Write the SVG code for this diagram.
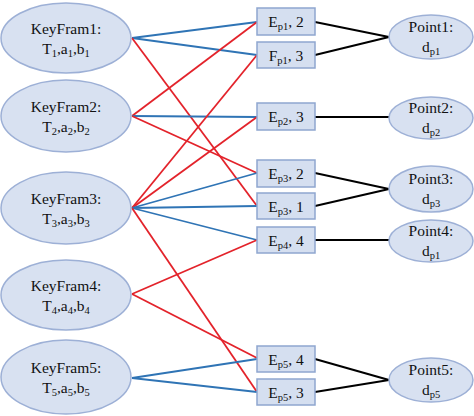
<svg xmlns="http://www.w3.org/2000/svg" width="474" height="416" viewBox="0 0 474 416">
<style>
.kf{fill:#d8e1f1;stroke:#9db0d6;stroke-width:1.5}
.bx{fill:#d5dff0;stroke:#8fa6cf;stroke-width:1.5}
.t{font-family:"Liberation Serif","Times New Roman",serif;font-size:15.5px;fill:#111;text-anchor:middle}
.s{font-size:10.5px}
.b{stroke:#2f74b5;stroke-width:1.8;fill:none}
.r{stroke:#e3232b;stroke-width:1.8;fill:none}
.k{stroke:#000;stroke-width:2;fill:none}
</style>
<rect width="474" height="416" fill="#fff"/>
<g id="connectors">
<line class="b" x1="132" y1="38" x2="257" y2="22"/>
<line class="b" x1="132" y1="38" x2="257" y2="55"/>
<line class="r" x1="132" y1="38" x2="257" y2="206"/>
<line class="r" x1="132" y1="116" x2="257" y2="22"/>
<line class="b" x1="132" y1="116" x2="257" y2="117"/>
<line class="r" x1="132" y1="116" x2="257" y2="173"/>
<line class="r" x1="132" y1="208" x2="257" y2="55"/>
<line class="r" x1="132" y1="208" x2="257" y2="117"/>
<line class="b" x1="132" y1="208" x2="257" y2="173"/>
<line class="b" x1="132" y1="208" x2="257" y2="206"/>
<line class="b" x1="132" y1="208" x2="257" y2="240"/>
<line class="r" x1="132" y1="208" x2="257" y2="392"/>
<line class="r" x1="132" y1="294" x2="257" y2="240"/>
<line class="r" x1="132" y1="294" x2="257" y2="358"/>
<line class="b" x1="132" y1="378" x2="257" y2="359"/>
<line class="b" x1="132" y1="378" x2="257" y2="392"/>
<line class="k" x1="315" y1="22" x2="389" y2="37"/>
<line class="k" x1="315" y1="55" x2="389" y2="37"/>
<line class="k" x1="315" y1="117" x2="389" y2="117"/>
<line class="k" x1="315" y1="173" x2="389" y2="189"/>
<line class="k" x1="315" y1="206" x2="389" y2="189"/>
<line class="k" x1="315" y1="240" x2="389" y2="240"/>
<line class="k" x1="315" y1="359" x2="389" y2="380"/>
<line class="k" x1="315" y1="392" x2="389" y2="380"/>
</g>
<g id="keyframe1"><ellipse class="kf" cx="66" cy="38" rx="65" ry="35"/>
<text class="t" x="66" y="34">KeyFram1:</text>
<text class="t" x="66" y="54">T<tspan class="s" dy="3">1</tspan><tspan dy="-3">,a</tspan><tspan class="s" dy="3">1</tspan><tspan dy="-3">,b</tspan><tspan class="s" dy="3">1</tspan></text></g>
<g id="keyframe2"><ellipse class="kf" cx="66" cy="116" rx="65" ry="36"/>
<text class="t" x="66" y="112">KeyFram2:</text>
<text class="t" x="66" y="132">T<tspan class="s" dy="3">2</tspan><tspan dy="-3">,a</tspan><tspan class="s" dy="3">2</tspan><tspan dy="-3">,b</tspan><tspan class="s" dy="3">2</tspan></text></g>
<g id="keyframe3"><ellipse class="kf" cx="66" cy="208" rx="65" ry="36"/>
<text class="t" x="66" y="204">KeyFram3:</text>
<text class="t" x="66" y="224">T<tspan class="s" dy="3">3</tspan><tspan dy="-3">,a</tspan><tspan class="s" dy="3">3</tspan><tspan dy="-3">,b</tspan><tspan class="s" dy="3">3</tspan></text></g>
<g id="keyframe4"><ellipse class="kf" cx="66" cy="295" rx="65" ry="35"/>
<text class="t" x="66" y="291">KeyFram4:</text>
<text class="t" x="66" y="311">T<tspan class="s" dy="3">4</tspan><tspan dy="-3">,a</tspan><tspan class="s" dy="3">4</tspan><tspan dy="-3">,b</tspan><tspan class="s" dy="3">4</tspan></text></g>
<g id="keyframe5"><ellipse class="kf" cx="66" cy="377" rx="65" ry="37"/>
<text class="t" x="66" y="373">KeyFram5:</text>
<text class="t" x="66" y="393">T<tspan class="s" dy="3">5</tspan><tspan dy="-3">,a</tspan><tspan class="s" dy="3">5</tspan><tspan dy="-3">,b</tspan><tspan class="s" dy="3">5</tspan></text></g>
<g id="e1"><rect class="bx" x="257" y="8" width="58" height="27"/><text class="t" x="286" y="27">E<tspan class="s" dy="3">p1</tspan><tspan dy="-3">, 2</tspan></text></g>
<g id="e2"><rect class="bx" x="257" y="42" width="58" height="26"/><text class="t" x="286" y="61">F<tspan class="s" dy="3">p1</tspan><tspan dy="-3">, 3</tspan></text></g>
<g id="e3"><rect class="bx" x="257" y="103" width="58" height="27"/><text class="t" x="286" y="122">E<tspan class="s" dy="3">p2</tspan><tspan dy="-3">, 3</tspan></text></g>
<g id="e4"><rect class="bx" x="257" y="160" width="58" height="27"/><text class="t" x="286" y="179">E<tspan class="s" dy="3">p3</tspan><tspan dy="-3">, 2</tspan></text></g>
<g id="e5"><rect class="bx" x="257" y="193" width="58" height="26"/><text class="t" x="286" y="212">E<tspan class="s" dy="3">p3</tspan><tspan dy="-3">, 1</tspan></text></g>
<g id="e6"><rect class="bx" x="257" y="227" width="58" height="26"/><text class="t" x="286" y="246">E<tspan class="s" dy="3">p4</tspan><tspan dy="-3">, 4</tspan></text></g>
<g id="e7"><rect class="bx" x="257" y="346" width="58" height="26"/><text class="t" x="286" y="365">E<tspan class="s" dy="3">p5</tspan><tspan dy="-3">, 4</tspan></text></g>
<g id="e8"><rect class="bx" x="257" y="379" width="58" height="26"/><text class="t" x="286" y="398">E<tspan class="s" dy="3">p5</tspan><tspan dy="-3">, 3</tspan></text></g>
<g id="point1"><ellipse class="kf" cx="431" cy="37" rx="42" ry="22"/><text class="t" x="431" y="32">Point1:</text><text class="t" x="431" y="52">d<tspan class="s" dy="3">p1</tspan></text></g>
<g id="point2"><ellipse class="kf" cx="431" cy="118" rx="42" ry="21"/><text class="t" x="431" y="113">Point2:</text><text class="t" x="431" y="133">d<tspan class="s" dy="3">p2</tspan></text></g>
<g id="point3"><ellipse class="kf" cx="431" cy="189" rx="42" ry="23"/><text class="t" x="431" y="184">Point3:</text><text class="t" x="431" y="204">d<tspan class="s" dy="3">p3</tspan></text></g>
<g id="point4"><ellipse class="kf" cx="431" cy="241" rx="42" ry="21"/><text class="t" x="431" y="236">Point4:</text><text class="t" x="431" y="256">d<tspan class="s" dy="3">p1</tspan></text></g>
<g id="point5"><ellipse class="kf" cx="431" cy="380" rx="42" ry="22"/><text class="t" x="431" y="375">Point5:</text><text class="t" x="431" y="395">d<tspan class="s" dy="3">p5</tspan></text></g>
</svg>
